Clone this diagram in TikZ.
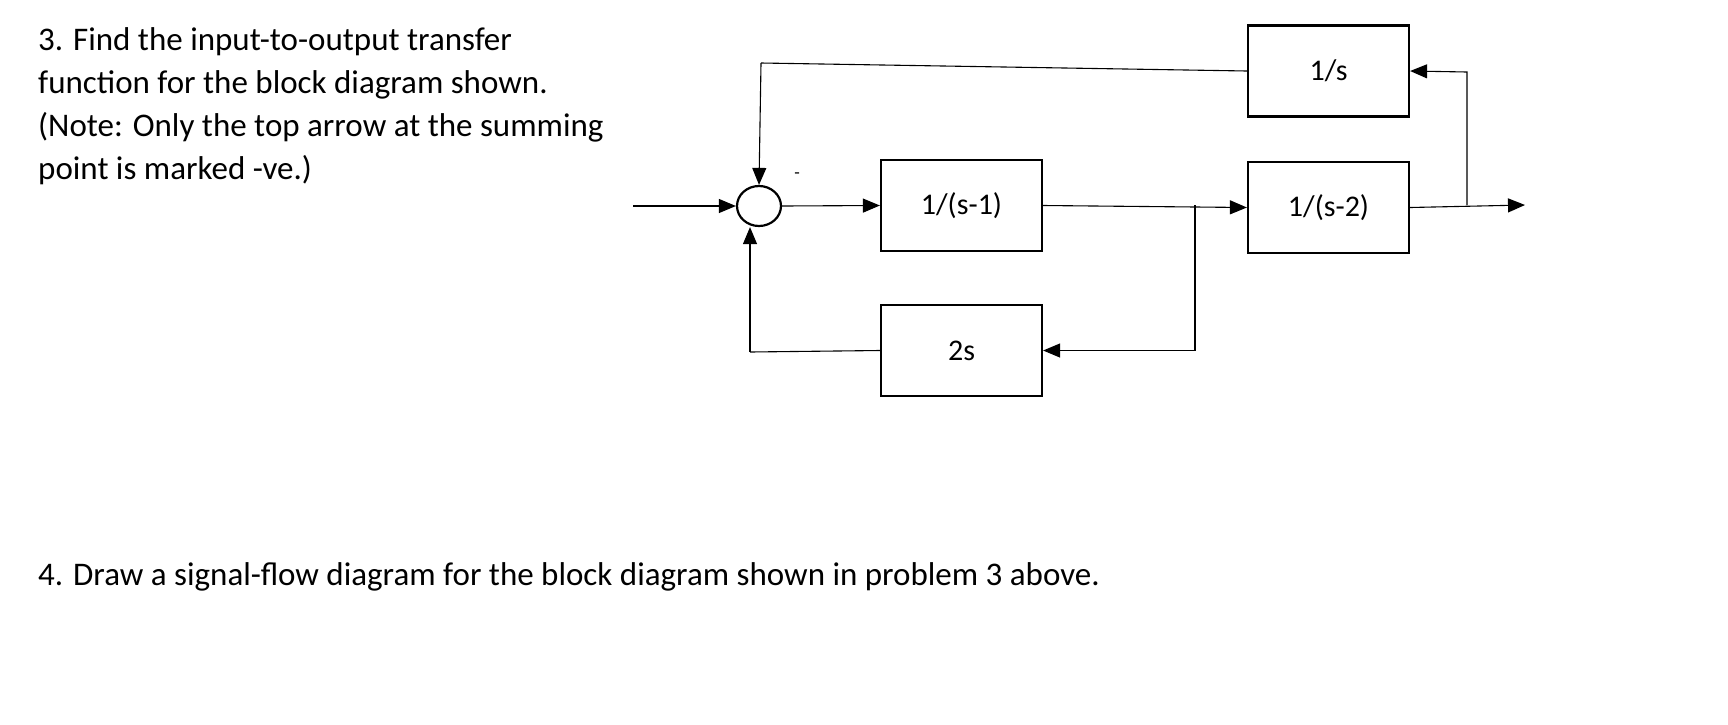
\documentclass[tikz,border=0pt]{standalone}
\usepackage{fontspec}
\setmainfont{Carlito}
\usetikzlibrary{arrows.meta,shapes.geometric}
\begin{document}
\begin{tikzpicture}[x=1pt,y=-1pt,
  blk/.style={draw,line width=2.2pt,minimum width=161pt,minimum height=91pt,inner sep=0pt,font=\fontsize{30}{34}\selectfont},
  sig/.style={line width=1.1pt},
  arr/.style={sig,-{Triangle[length=17pt,width=14pt]}},
  txt/.style={anchor=base west,inner sep=0pt,font=\fontsize{33}{38}\selectfont}]
\useasboundingbox (0,0) rectangle (1728,724);
\node[txt] (l1) at (38,50) {3. Find the input-to-output transfer};
\node[txt] (l2) at (38,93) {function for the block diagram shown.};
\node[txt] (l3) at (38,136) {(Note: Only the top arrow at the summing};
\node[txt] (l4) at (38,179) {point is marked -ve.)};
\node[txt] (l5) at (38,585) {4. Draw a signal-flow diagram for the block diagram shown in problem 3 above.};

\node[draw,line width=2.2pt,ellipse,minimum width=44pt,minimum height=40pt,inner sep=0pt] (sum) at (759,206) {};
\node[blk] (g1) at (961.5,205.5) {1/(s-1)};
\node[blk] (g2) at (1328.5,207.5) {1/(s-2)};
\node[blk] (h1) at (1328.5,71) {1/s};
\node[blk] (h2) at (961.5,350.5) {2s};
\node[inner sep=0pt,font=\fontsize{18}{18}\selectfont] (minus) at (797,176) {-};

\coordinate (in) at (633,206);
\coordinate (tl) at (761,63);
\coordinate (br) at (1195,205);
\coordinate (bl) at (750,352);
\coordinate (out) at (1525,205);
\coordinate (ob) at (1467,205);
\coordinate (ot) at (1467,72);

\draw[arr] (in) -- (sum.west);
\draw[arr] (sum.east) -- (g1.west);
\draw[arr] (g1.east) -- (g2.west);
\draw[arr] (g2.east) -- (out);
\draw[arr] (ob) -- (ot) -- (h1.east);
\draw[sig] (h1.west) -- (tl);
\draw[arr] (tl) -- (sum.north);
\draw[arr] (br) -- (br|-h2.east) -- (h2.east);
\draw[sig] (h2.west) -- (bl);
\draw[arr] (bl) -- (sum.south -| bl);
\end{tikzpicture}
\end{document}
